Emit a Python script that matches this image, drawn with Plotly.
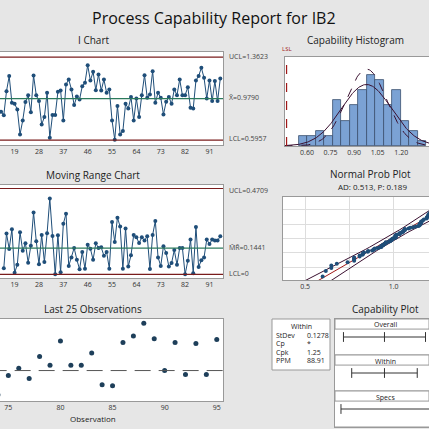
from statistics import NormalDist

import numpy as np
import plotly.graph_objects as go

# individual observations 14..95 (1..13 fall off the left edge of the picture)
OBS = list(range(14, 96))
VALUES = [
    0.857, 0.824, 1.048, 1.187, 0.940, 0.931, 0.879, 0.648, 0.777, 0.947,
    1.011, 0.854, 1.193, 1.011, 0.956, 0.740, 0.808, 1.033, 0.617, 0.827,
    0.827, 1.042, 1.054, 0.777, 1.110, 1.156, 1.064, 0.919, 0.999, 0.971,
    1.094, 1.125, 1.288, 1.147, 1.227, 1.057, 1.202, 1.054, 1.156, 1.033,
    1.064, 0.777, 0.599, 0.910, 0.648, 0.679, 0.931, 0.888, 0.993, 0.777,
    0.980, 0.808, 1.011, 1.196, 0.987, 1.017, 1.233, 0.940, 1.033, 0.987,
    0.833, 0.950, 0.993, 0.931, 1.064, 1.011, 1.156, 1.011, 1.011, 1.085,
    0.894, 0.888, 1.147, 1.187, 1.264, 1.171, 0.980, 1.147, 0.956, 1.141,
    0.956, 1.165,
]
XBAR, UCL_I, LCL_I = 0.9790, 1.3623, 0.5957
MRBAR, UCL_MR, LCL_MR = 0.1441, 0.4709, 0.0
I_TICKS = [19, 28, 37, 46, 55, 64, 73, 82, 91]

HIST_CENTERS = [0.575, 0.629, 0.683, 0.737, 0.791, 0.845, 0.899, 0.953,
                1.007, 1.061, 1.115, 1.169, 1.223, 1.277, 1.331]
HIST_COUNTS = [2, 2, 3, 2, 9, 5, 8, 11, 14, 13, 8, 11, 5, 3, 1]
HIST_TICKS = [0.60, 0.75, 0.90, 1.05, 1.20, 1.35]
LSL = 0.47
SD_WITHIN, SD_OVERALL = 0.1278, 0.160

TABLE_KEYS = ["StDev", "Cp", "Cpk", "PPM"]
TABLE_VALS = ["0.1278", "*", "1.25", "88.91"]

BG = "#e6e6e6"
BLUE = "#1f4e79"
RED = "#7a1c1c"
GREEN = "#2c7a5c"

fig = go.Figure()

# ---- I chart ----
fig.add_trace(go.Scatter(x=OBS, y=VALUES, mode="lines+markers",
                         line=dict(color=BLUE, width=1), marker=dict(size=4, color=BLUE),
                         xaxis="x", yaxis="y"))
for v, c in [(UCL_I, RED), (XBAR, GREEN), (LCL_I, RED)]:
    fig.add_trace(go.Scatter(x=[13, 97], y=[v, v], mode="lines", line=dict(color=c, width=1.2),
                             xaxis="x", yaxis="y"))

# ---- moving range ----
mr = np.abs(np.diff(VALUES))
fig.add_trace(go.Scatter(x=OBS[1:], y=mr, mode="lines+markers",
                         line=dict(color=BLUE, width=1), marker=dict(size=4, color=BLUE),
                         xaxis="x2", yaxis="y2"))
for v, c in [(UCL_MR, RED), (MRBAR, GREEN), (LCL_MR, RED)]:
    fig.add_trace(go.Scatter(x=[13, 97], y=[v, v], mode="lines", line=dict(color=c, width=1.2),
                             xaxis="x2", yaxis="y2"))

# ---- last 25 ----
last_x, last_y = OBS[-25:], VALUES[-25:]
fig.add_trace(go.Scatter(x=last_x, y=last_y, mode="markers", marker=dict(size=5, color="#1e3f5a"),
                         xaxis="x3", yaxis="y3"))
fig.add_trace(go.Scatter(x=[71, 96], y=[XBAR, XBAR], mode="lines",
                         line=dict(color="#555", width=1, dash="16px,8px"), xaxis="x3", yaxis="y3"))

# ---- histogram ----
fig.add_trace(go.Bar(x=HIST_CENTERS, y=HIST_COUNTS, width=0.054,
                     marker=dict(color="#7ba2d4", line=dict(color="#3b4f6e", width=0.8)),
                     xaxis="x4", yaxis="y4"))
xs = np.linspace(0.45, 1.4, 200)
scale = sum(HIST_COUNTS) * 0.05
for sd, dash in [(SD_OVERALL, "solid"), (SD_WITHIN, "dash")]:
    dens = scale * np.exp(-0.5 * ((xs - XBAR) / sd) ** 2) / (sd * np.sqrt(2 * np.pi))
    fig.add_trace(go.Scatter(x=xs, y=dens, mode="lines", line=dict(color="#3a1030", width=1, dash=dash),
                             xaxis="x4", yaxis="y4"))
fig.add_trace(go.Scatter(x=[LSL, LSL], y=[0, 17.3], mode="lines",
                         line=dict(color="#a01818", width=1.2, dash="dash"), xaxis="x4", yaxis="y4"))

# ---- normal probability plot ----
srt = np.sort(VALUES)
n = len(srt)
nd = NormalDist()
z = [nd.inv_cdf((i + 1 - 0.3) / (n + 0.4)) for i in range(n)]
m, s = float(np.mean(VALUES)), float(np.std(VALUES, ddof=1))
zz = np.linspace(-3, 3, 50)
fig.add_trace(go.Scatter(x=m + s * zz, y=zz, mode="lines", line=dict(color="#a01818", width=1),
                         xaxis="x5", yaxis="y5"))
band = s * np.sqrt(1 / n + zz ** 2 / (2 * (n - 1))) * 1.96
for sign in (-1, 1):
    fig.add_trace(go.Scatter(x=m + s * zz + sign * band, y=zz, mode="lines",
                             line=dict(color="#3a1030", width=1), xaxis="x5", yaxis="y5"))
fig.add_trace(go.Scatter(x=srt, y=z, mode="markers", marker=dict(size=4, color=BLUE),
                         xaxis="x5", yaxis="y5"))

# ---- capability plot ----
rows = [(2.5, SD_OVERALL), (1.5, SD_WITHIN), (0.5, None)]
for yc, sd in rows:
    if sd is None:
        fig.add_trace(go.Scatter(x=[LSL, 1.6], y=[yc, yc], mode="lines", line=dict(color="#333", width=1),
                                 xaxis="x6", yaxis="y6"))
        fig.add_trace(go.Scatter(x=[LSL], y=[yc], mode="markers",
                                 marker=dict(symbol="line-ns", size=7, line=dict(color="#333", width=1)),
                                 xaxis="x6", yaxis="y6"))
    else:
        px_ = [XBAR - 3 * sd, XBAR, XBAR + 3 * sd]
        fig.add_trace(go.Scatter(x=px_, y=[yc] * 3, mode="lines+markers", line=dict(color="#333", width=1),
                                 marker=dict(symbol="line-ns", size=7, line=dict(color="#333", width=1)),
                                 xaxis="x6", yaxis="y6"))

shapes = []
for top in (3, 2, 1):
    shapes.append(dict(type="rect", xref="x6 domain", yref="y6", x0=0, x1=1, y0=top - 0.28, y1=top,
                       fillcolor="white", line=dict(color="#999", width=1)))
    shapes.append(dict(type="line", xref="x6 domain", yref="y6", x0=0, x1=1, y0=top - 1, y1=top - 1,
                       line=dict(color="#999", width=1)))
shapes.append(dict(type="rect", xref="paper", yref="paper", x0=272 / 429, x1=330 / 429,
                   y0=1 - 370 / 429, y1=1 - 319 / 429, fillcolor="white", line=dict(color="#999", width=1)))

ann = []
def txt(x, y, t, size=8, anchor="center", color="#222"):
    ann.append(dict(x=x / 429, y=1 - y / 429, xref="paper", yref="paper", text=t, showarrow=False,
                    font=dict(size=size, color=color), xanchor=anchor, yanchor="middle"))

txt(214, 18, "Process Capability Report for IB2", 16, color="#111")
txt(93, 40, "I Chart", 10)
txt(93, 175, "Moving Range Chart", 10)
txt(93, 309, "Last 25 Observations", 10)
txt(355, 40, "Capability Histogram", 10)
txt(370, 174, "Normal Prob Plot", 10)
txt(372, 186, "AD: 0.513, P: 0.189", 8)
txt(385, 309, "Capability Plot", 10)
txt(287, 49, "LSL", 6, "center", "#a01818")
txt(93, 418, "Observation", 8)
txt(227, 56, "UCL=1.3623", 7, "left", "#444")
txt(227, 97, "X̄=0.9790", 7, "left", "#444")
txt(227, 138, "LCL=0.5957", 7, "left", "#444")
txt(227, 190, "UCL=0.4709", 7, "left", "#444")
txt(227, 248, "M̄R̄=0.1441", 7, "left", "#444")
txt(227, 273, "LCL=0", 7, "left", "#444")
txt(301, 326, "Within", 7)
for i, (k, v) in enumerate(zip(TABLE_KEYS, TABLE_VALS)):
    txt(274, 335 + i * 8.5, k, 7, "left")
    txt(305, 335 + i * 8.5, v, 7, "left")
for lab, yy in [("Overall", 324), ("Within", 361), ("Specs", 397)]:
    txt(385, yy, lab, 7)

ax_common = dict(showline=True, linecolor="#999", mirror=True, zeroline=False, showgrid=False,
                 tickfont=dict(size=7, color="#333"), ticks="")

def px_dom(a, b):
    return [a / 429, b / 429]

def py_dom(top, bottom):
    return [1 - bottom / 429, 1 - top / 429]

fig.update_layout(
    width=429, height=429, margin=dict(l=0, r=0, t=0, b=0),
    paper_bgcolor=BG, plot_bgcolor="white", showlegend=False,
    font=dict(family="Open Sans"), shapes=shapes, annotations=ann, bargap=0,
    xaxis=dict(ax_common, domain=px_dom(0, 223), range=[13.6, 96], tickvals=I_TICKS, anchor="y"),
    yaxis=dict(ax_common, domain=py_dom(52, 145), range=[0.55, 1.41], showticklabels=False, anchor="x"),
    xaxis2=dict(ax_common, domain=px_dom(0, 223), range=[13.6, 96], tickvals=I_TICKS, anchor="y2"),
    yaxis2=dict(ax_common, domain=py_dom(185, 278), range=[-0.02, 0.49], showticklabels=False, anchor="x2"),
    xaxis3=dict(ax_common, domain=px_dom(0, 223), range=[74.2, 95.6], tickvals=[75, 80, 85, 90, 95], anchor="y3"),
    yaxis3=dict(ax_common, domain=py_dom(319, 401), range=[0.796, 1.289], showticklabels=False, anchor="x3"),
    xaxis4=dict(ax_common, domain=px_dom(285, 429), range=[0.46, 1.377], tickvals=HIST_TICKS,
                tickformat=".2f", anchor="y4"),
    yaxis4=dict(ax_common, domain=py_dom(57, 146), range=[0, 17.5], showticklabels=False, anchor="x4"),
    xaxis5=dict(ax_common, domain=px_dom(283, 429), range=[0.375, 1.2], tickvals=[0.5, 0.75, 1.0],
                ticktext=["0.5", "", "1.0"], showgrid=True, gridcolor="#ddd", anchor="y5"),
    yaxis5=dict(ax_common, domain=py_dom(197, 280), range=[-2.6, 2.6], showticklabels=False,
                tickvals=[-1.8, -0.9, 0, 0.9, 1.8], showgrid=True, gridcolor="#ddd", anchor="x5"),
    xaxis6=dict(ax_common, domain=px_dom(335, 429), range=[0.40, 1.50], showticklabels=False, anchor="y6"),
    yaxis6=dict(ax_common, domain=py_dom(319, 427), range=[0, 3], showticklabels=False, anchor="x6"),
)

fig.write_html("out.html", config={"displayModeBar": False},
               post_script="document.body.style.margin='0';document.body.style.overflow='hidden';")
